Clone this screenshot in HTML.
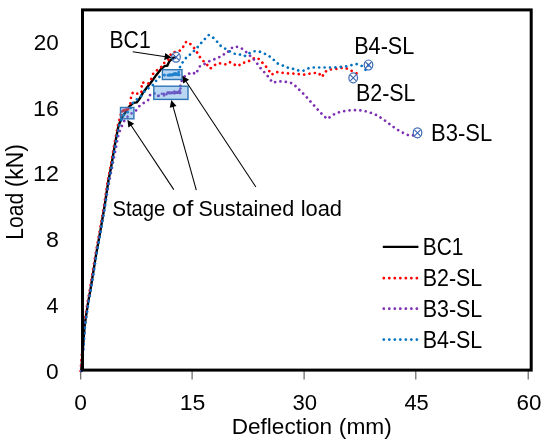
<!DOCTYPE html>
<html lang="en"><head><meta charset="utf-8"><title>Load-Deflection</title>
<style>
html,body{margin:0;padding:0;background:#fff;}
body{width:550px;height:443px;overflow:hidden;}
svg{display:block;}
text{font-family:"Liberation Sans",Arial,sans-serif;font-size:23px;fill:#000;font-kerning:none;}
</style></head><body>
<svg width="550" height="443" viewBox="0 0 550 443">
<rect width="550" height="443" fill="#fff"/>
<g stroke="#595959" stroke-width="1.1">
<line x1="80.7" y1="371" x2="80.7" y2="379.5"/>
<line x1="192.1" y1="371" x2="192.1" y2="379.5"/>
<line x1="304.1" y1="371" x2="304.1" y2="379.5"/>
<line x1="415.8" y1="371" x2="415.8" y2="379.5"/>
<line x1="528.2" y1="371" x2="528.2" y2="379.5"/>
</g>
<polyline points="81.2,371.0 83.0,347.7 84.7,325.0 88.1,302.6 90.4,290.0 96.1,254.4 100.6,229.6 104.8,204.8 108.5,180.0 111.0,167.7 114.8,145.1 118.2,127.1 119.6,123.0 122.4,117.0 123.0,116.0 129.6,106.2 133.4,102.9 136.7,102.4 139.4,99.1 142.7,93.1 146.5,88.0 150.9,82.5 156.4,74.9 160.7,69.4 164.5,66.2 167.3,65.6 169.4,61.3 172.7,58.0 176.0,57.4" fill="none" stroke="#000" stroke-width="2.4" stroke-linejoin="round"/>
<polyline points="80.6,371.0 82.4,347.7 84.1,325.0 87.5,302.6 89.8,290.0 95.5,254.4 100.0,229.6 104.2,204.8 107.9,180.0 110.4,167.7 114.2,145.1 117.6,127.1 118.4,122.6 120.4,117.0 120.9,113.5 122.0,111.3 127.4,108.9 130.2,105.6 130.7,100.2 131.3,94.7 133.4,92.0 135.6,93.1 139.4,94.2 141.6,91.5 141.6,87.1 142.4,82.1 145.5,83.8 148.3,83.5 150.9,79.8 153.6,72.7 157.4,70.0 160.2,67.3 162.9,66.2 164.5,62.4 168.4,59.6 171.6,52.5 178.2,51.5 182.0,49.3 183.6,46.0 186.3,41.6 189.6,43.3 193.4,47.1 196.2,50.9 199.4,56.4 203.3,61.0 207.6,65.4 210.2,68.6 214.2,65.4 217.8,63.2 222.2,63.7 225.4,64.3 229.3,61.9 234.2,64.5 238.0,66.2 242.3,62.8 247.6,62.1 252.0,58.8 257.5,57.7 260.7,61.0 265.1,65.4 268.4,69.7 271.6,74.7 276.0,71.9 281.5,72.6 286.9,73.4 292.4,73.4 297.8,74.1 303.3,74.7 307.6,74.1 313.1,73.0 318.5,73.0 322.3,77.0 324.1,72.6 328.4,69.7 333.8,69.3 338.2,68.6 343.6,67.5 349.1,69.3 353.6,72.0 358.4,74.2" stroke="#FF0000" stroke-width="2.7" stroke-linecap="round" stroke-dasharray="0.01 5.4" fill="none" stroke-linejoin="round"/>
<polyline points="81.4,371.0 83.2,347.7 84.9,325.0 88.3,302.6 90.6,290.0 96.3,254.4 100.8,229.6 105.0,204.8 109.7,179.0 114.2,156.4 118.6,133.9 121.4,127.0 123.9,121.4 129.0,114.9 135.6,111.1 138.9,106.5 142.7,103.4 146.5,101.8 148.7,99.4 150.3,94.2 154.2,93.1 157.5,96.2 162.0,94.2 170.0,92.5 180.4,90.5 180.6,88.0 180.3,83.1 185.3,75.4 189.1,73.6 192.3,72.2 195.6,74.2 197.3,71.1 199.4,66.6 204.2,64.3 208.0,61.7 213.2,59.7 218.4,57.7 222.7,54.7 226.9,53.4 229.8,49.2 234.2,46.5 239.4,47.1 244.0,50.1 247.6,53.4 252.0,57.7 255.3,61.0 258.5,65.4 261.8,69.7 266.2,74.1 269.5,78.5 272.7,82.8 278.2,81.3 283.6,81.7 289.1,82.2 293.5,83.9 297.2,87.8 301.1,91.6 305.0,95.3 308.7,99.6 312.4,103.6 316.2,107.8 319.7,111.8 323.5,115.6 327.4,119.0 331.3,116.0 335.8,113.2 340.6,111.8 346.1,110.8 351.6,110.2 356.9,110.2 362.4,110.6 367.8,111.7 372.8,113.5 377.6,115.6 382.0,118.5 386.4,121.5 390.7,125.0 395.1,128.1 399.5,130.9 404.9,133.8 409.9,135.7 414.3,135.3 417.4,132.7" stroke="#7D30B4" stroke-width="2.7" stroke-linecap="round" stroke-dasharray="0.01 5.4" fill="none" stroke-linejoin="round"/>
<polyline points="81.6,371.0 83.4,347.7 85.1,325.0 88.5,302.6 90.8,290.0 96.5,254.4 101.0,229.6 105.2,204.8 108.9,180.0 111.4,167.7 115.2,145.1 118.6,127.1 120.0,123.0 122.6,116.6 124.0,114.5 129.0,111.5 130.5,108.5 132.4,103.4 135.6,100.2 140.5,96.9 144.4,91.5 149.3,87.6 154.7,83.6 157.4,78.2 160.2,76.5 165.0,75.0 178.7,74.2 178.8,69.4 180.9,65.3 183.6,60.5 186.9,56.9 190.7,54.0 194.5,50.4 198.3,46.3 202.0,42.0 205.2,38.6 208.8,35.0 213.2,37.7 217.0,41.6 220.5,45.7 225.1,48.6 229.7,51.4 234.3,53.7 239.6,54.4 244.2,56.3 248.6,53.4 254.2,51.2 259.6,51.6 264.0,53.4 268.4,55.5 272.7,58.8 277.1,63.2 282.5,65.4 286.9,67.5 292.4,68.6 297.8,70.4 303.3,70.8 307.6,68.6 313.1,67.5 334.9,67.5 340.4,66.9 345.8,66.5 351.3,65.2 356.3,63.9 361.3,65.5 365.6,69.8 368.5,64.8" stroke="#0070C0" stroke-width="2.7" stroke-linecap="round" stroke-dasharray="0.01 5.4" fill="none" stroke-linejoin="round"/>
<circle cx="158" cy="96.1" r="1.25" fill="#7D30B4"/><circle cx="161.8" cy="93.8" r="1.25" fill="#7D30B4"/><circle cx="164.1" cy="95.6" r="1.25" fill="#7D30B4"/><circle cx="166.4" cy="94.2" r="1.25" fill="#7D30B4"/><circle cx="180.5" cy="88.6" r="1.25" fill="#7D30B4"/>
<polyline points="167.6,92.7 170,93.2 172,92.6 174.5,93 177,92.3 180.2,92.8" stroke="#7D30B4" stroke-width="2.9" stroke-linecap="round" stroke-linejoin="round" fill="none"/>
<circle cx="164.3" cy="75" r="1.25" fill="#0070C0"/>
<polyline points="167.9,75.2 172,75 175.5,74.2 179,74.8" stroke="#0070C0" stroke-width="2.9" stroke-linecap="round" stroke-linejoin="round" fill="none"/>
<polyline points="172.5,73.8 175.2,73 177.5,73.6" stroke="#0070C0" stroke-width="1.8" stroke-linecap="round" fill="none"/>
<polyline points="122,111.5 124.5,110 128.3,109.3" stroke="#FF0000" stroke-width="2.5" stroke-linecap="round" stroke-linejoin="round" fill="none"/>
<rect x="82.5" y="9.9" width="448.7" height="360.2" fill="none" stroke="#000" stroke-width="3"/>
<rect x="162.4" y="69.7" width="19.6" height="9.8" fill="#4F9BE0" fill-opacity="0.4" stroke="#2E75B6" stroke-width="1.4"/>
<rect x="153.8" y="86.2" width="34.2" height="13.2" fill="#4F9BE0" fill-opacity="0.4" stroke="#2E75B6" stroke-width="1.4"/>
<rect x="120.5" y="107.5" width="13.4" height="11.3" fill="#4F9BE0" fill-opacity="0.4" stroke="#2E75B6" stroke-width="1.4"/>
<line x1="132.7" y1="51.8" x2="165.7" y2="56.7" stroke="#000" stroke-width="1.05"/><polygon points="171.6,57.6 164.2,60.0 165.2,53.1" fill="#000"/>
<line x1="173.8" y1="189.6" x2="130.7" y2="124.8" stroke="#000" stroke-width="1.05"/><polygon points="127.4,119.8 134.2,123.7 128.4,127.6" fill="#000"/>
<line x1="196.3" y1="190.2" x2="172.9" y2="105.9" stroke="#000" stroke-width="1.05"/><polygon points="171.3,100.1 176.5,105.9 169.8,107.8" fill="#000"/>
<line x1="255.9" y1="187" x2="185.6" y2="80.8" stroke="#000" stroke-width="1.05"/><polygon points="182.3,75.8 189.1,79.7 183.2,83.6" fill="#000"/>
<g stroke="#3B68B5" stroke-width="1.2" fill="none"><ellipse cx="176" cy="57.2" rx="4.3" ry="5.0"/><path d="M173.0 54.2L179.0 60.2M179.0 54.2L173.0 60.2"/></g>
<g stroke="#3B68B5" stroke-width="1.2" fill="none"><ellipse cx="368.5" cy="65" rx="4.3" ry="5.0"/><path d="M365.5 62.0L371.5 68.0M371.5 62.0L365.5 68.0"/></g>
<g stroke="#3B68B5" stroke-width="1.2" fill="none"><ellipse cx="353.2" cy="77.9" rx="4.3" ry="5.0"/><path d="M350.2 74.9L356.2 80.9M356.2 74.9L350.2 80.9"/></g>
<g stroke="#3B68B5" stroke-width="1.2" fill="none"><ellipse cx="417.5" cy="132.8" rx="4.3" ry="5.0"/><path d="M414.5 129.8L420.5 135.8M420.5 129.8L414.5 135.8"/></g>
<text x="33.72" y="49.9" style="font-size:22.8px" textLength="25.01" lengthAdjust="spacingAndGlyphs">20</text>
<text x="33.08" y="115.6" style="font-size:22.8px" textLength="25.78" lengthAdjust="spacingAndGlyphs">16</text>
<text x="33.07" y="181.4" style="font-size:22.8px" textLength="25.95" lengthAdjust="spacingAndGlyphs">12</text>
<text x="45.94" y="247.1" style="font-size:22.8px" textLength="12.92" lengthAdjust="spacingAndGlyphs">8</text>
<text x="46.45" y="312.9" style="font-size:22.8px" textLength="12.03" lengthAdjust="spacingAndGlyphs">4</text>
<text x="46.06" y="378.7" style="font-size:22.8px" textLength="12.68" lengthAdjust="spacingAndGlyphs">0</text>
<text x="74.36" y="410.4" style="font-size:22.8px" textLength="12.68" lengthAdjust="spacingAndGlyphs">0</text>
<text x="179.80" y="410.4" style="font-size:22.8px" textLength="25.62" lengthAdjust="spacingAndGlyphs">15</text>
<text x="292.41" y="410.4" style="font-size:22.8px" textLength="24.61" lengthAdjust="spacingAndGlyphs">30</text>
<text x="404.45" y="410.4" style="font-size:22.8px" textLength="24.32" lengthAdjust="spacingAndGlyphs">45</text>
<text x="516.51" y="410.4" style="font-size:22.8px" textLength="24.91" lengthAdjust="spacingAndGlyphs">60</text>
<text style="font-size:22.7px"><tspan x="231.70" y="433.8" textLength="100.42" lengthAdjust="spacingAndGlyphs">Deflection</tspan> <tspan x="338.84" y="433.8" textLength="53.02" lengthAdjust="spacingAndGlyphs">(mm)</tspan></text>
<text style="font-size:23.3px" transform="translate(23.2 0) rotate(-90)"><tspan x="-239.78" y="0" textLength="46.99" lengthAdjust="spacingAndGlyphs">Load</tspan> <tspan x="-187.27" y="0" textLength="43.13" lengthAdjust="spacingAndGlyphs">(kN)</tspan></text>
<text x="109.51" y="48.3" style="font-size:24px" textLength="41.17" lengthAdjust="spacingAndGlyphs">BC1</text>
<text style="font-size:22px"><tspan x="112.43" y="215.5" textLength="52.82" lengthAdjust="spacingAndGlyphs">Stage</tspan> <tspan x="171.97" y="215.5" textLength="21.44" lengthAdjust="spacingAndGlyphs">of</tspan> <tspan x="198.47" y="215.5" textLength="95.87" lengthAdjust="spacingAndGlyphs">Sustained</tspan> <tspan x="300.67" y="215.5" textLength="41.39" lengthAdjust="spacingAndGlyphs">load</tspan></text>
<text x="354.17" y="54.4" style="font-size:24px" textLength="60.20" lengthAdjust="spacingAndGlyphs">B4-SL</text>
<text x="355.89" y="101.4" style="font-size:24px" textLength="59.67" lengthAdjust="spacingAndGlyphs">B2-SL</text>
<text x="431.05" y="140.6" style="font-size:24px" textLength="61.13" lengthAdjust="spacingAndGlyphs">B3-SL</text>
<line x1="382.8" y1="246.9" x2="418.4" y2="246.9" stroke="#000" stroke-width="2.1"/>
<line x1="383.8" y1="278.2" x2="417.5" y2="278.2" stroke="#FF0000" stroke-width="2.8" stroke-linecap="round" stroke-dasharray="0.01 5.5"/>
<line x1="383.8" y1="308.7" x2="417.5" y2="308.7" stroke="#7D30B4" stroke-width="2.8" stroke-linecap="round" stroke-dasharray="0.01 5.5"/>
<line x1="383.8" y1="339.6" x2="417.5" y2="339.6" stroke="#0070C0" stroke-width="2.8" stroke-linecap="round" stroke-dasharray="0.01 5.5"/>
<text x="422.73" y="254.9" style="font-size:23.5px" textLength="40.74" lengthAdjust="spacingAndGlyphs">BC1</text>
<text x="422.69" y="286" style="font-size:23.5px" textLength="59.57" lengthAdjust="spacingAndGlyphs">B2-SL</text>
<text x="422.69" y="317" style="font-size:23.5px" textLength="59.57" lengthAdjust="spacingAndGlyphs">B3-SL</text>
<text x="422.69" y="347.6" style="font-size:23.5px" textLength="59.57" lengthAdjust="spacingAndGlyphs">B4-SL</text>
</svg></body></html>
